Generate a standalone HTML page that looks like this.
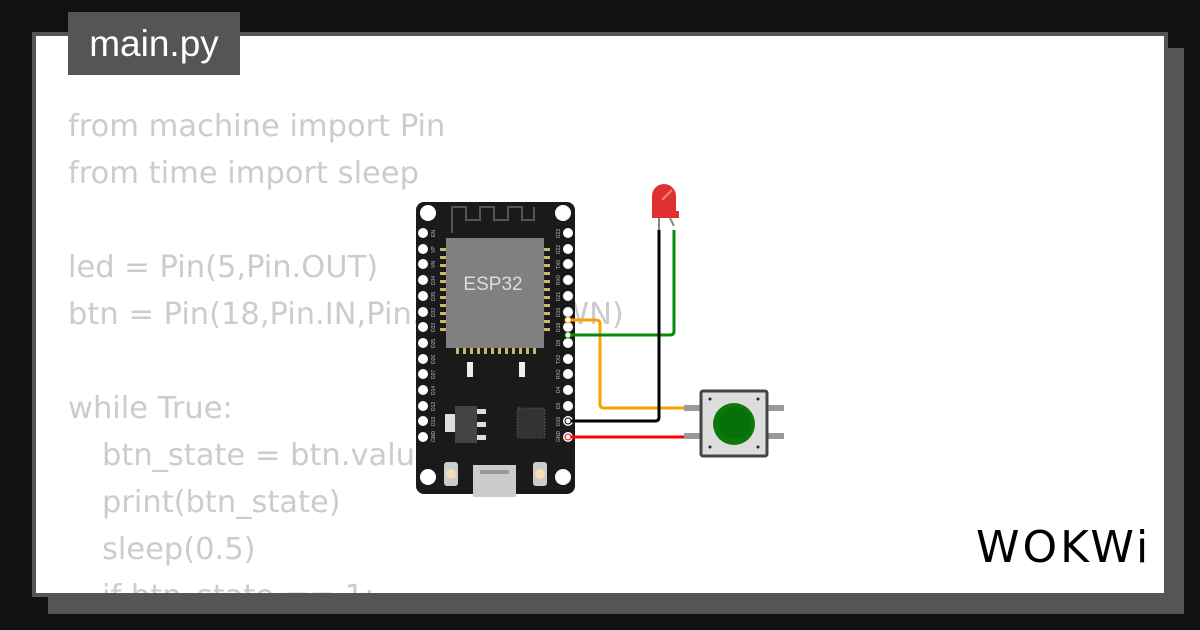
<!DOCTYPE html>
<html><head><meta charset="utf-8"><style>
html,body{margin:0;padding:0;background:#111;}
#c{position:relative;width:1200px;height:630px;overflow:hidden;background:#111;font-family:"Liberation Sans","DejaVu Sans",sans-serif;}
.shadow{position:absolute;left:48px;top:48px;width:1136px;height:566px;background:#555;}
.panel{position:absolute;left:32px;top:32px;width:1128px;height:557px;background:#fff;border:4px solid #555;overflow:hidden;}
.tab{position:absolute;left:68px;top:12px;width:172px;height:63px;background:#555;color:#fff;font-size:37px;line-height:63px;text-align:center;}
.code{position:absolute;left:32px;top:67px;color:#ccc;font-size:30.5px;line-height:47px;white-space:pre;font-family:"DejaVu Sans",sans-serif;}
.i{display:inline-block;width:34px;}
svg{position:absolute;left:0;top:0;}
.logo{position:absolute;left:976px;top:522px;font-size:44px;color:#000;letter-spacing:3px;font-family:"DejaVu Sans",sans-serif;}
</style></head><body><div id="c">
<div class="shadow"></div>
<div class="panel"><div class="code">from machine import Pin
from time import sleep

led = Pin(5,Pin.OUT)
btn = Pin(18,Pin.IN,Pin.PULL_DOWN)

while True:
<span class="i"></span>btn_state = btn.value()
<span class="i"></span>print(btn_state)
<span class="i"></span>sleep(0.5)
<span class="i"></span>if btn_state == 1:</div></div>
<div class="tab">main.py</div>
<svg width="1200" height="630" viewBox="0 0 1200 630">
<rect x="416" y="202" width="159" height="292" rx="8" fill="#1a1a1a"/>
<path d="M452 233 V207 H466 V220 H480 V207 H494 V220 H508 V207 H522 V220 H534 V207" fill="none" stroke="#555" stroke-width="2"/>
<g fill="#c9b86a">
<rect x="440" y="248" width="6" height="3"/><rect x="440" y="256" width="6" height="3"/><rect x="440" y="264" width="6" height="3"/><rect x="440" y="272" width="6" height="3"/><rect x="440" y="280" width="6" height="3"/><rect x="440" y="288" width="6" height="3"/><rect x="440" y="296" width="6" height="3"/><rect x="440" y="304" width="6" height="3"/><rect x="440" y="312" width="6" height="3"/><rect x="440" y="320" width="6" height="3"/><rect x="440" y="328" width="6" height="3"/>
<rect x="544" y="248" width="6" height="3"/><rect x="544" y="256" width="6" height="3"/><rect x="544" y="264" width="6" height="3"/><rect x="544" y="272" width="6" height="3"/><rect x="544" y="280" width="6" height="3"/><rect x="544" y="288" width="6" height="3"/><rect x="544" y="296" width="6" height="3"/><rect x="544" y="304" width="6" height="3"/><rect x="544" y="312" width="6" height="3"/><rect x="544" y="320" width="6" height="3"/><rect x="544" y="328" width="6" height="3"/>
<rect x="456" y="348" width="3" height="6"/><rect x="463" y="348" width="3" height="6"/><rect x="470" y="348" width="3" height="6"/><rect x="477" y="348" width="3" height="6"/><rect x="484" y="348" width="3" height="6"/><rect x="491" y="348" width="3" height="6"/><rect x="498" y="348" width="3" height="6"/><rect x="505" y="348" width="3" height="6"/><rect x="512" y="348" width="3" height="6"/><rect x="519" y="348" width="3" height="6"/><rect x="526" y="348" width="3" height="6"/><rect x="533" y="348" width="3" height="6"/>
</g>
<rect x="446" y="238" width="98" height="110" fill="#808080"/>
<text x="493" y="290" font-size="19" fill="#ddd" text-anchor="middle" font-family="Liberation Sans,sans-serif">ESP32</text>
<rect x="467" y="362" width="6" height="15" fill="#eee"/><rect x="519" y="362" width="6" height="15" fill="#eee"/>
<rect x="445" y="414" width="10" height="18" fill="#ddd"/>
<rect x="455" y="406" width="22" height="37" fill="#444"/>
<rect x="477" y="409" width="9" height="5" fill="#ddd"/><rect x="477" y="422" width="9" height="5" fill="#ddd"/><rect x="477" y="435" width="9" height="5" fill="#ddd"/>
<rect x="517" y="408" width="28" height="30" rx="2" fill="#333" stroke="#666" stroke-dasharray="1 2"/>
<rect x="444" y="462" width="14" height="24" rx="3" fill="#ccc"/><circle cx="451" cy="474" r="5" fill="#f5deb3"/>
<rect x="533" y="462" width="14" height="24" rx="3" fill="#ccc"/><circle cx="540" cy="474" r="5" fill="#f5deb3"/>
<rect x="473" y="465" width="43" height="32" fill="#ccc"/><rect x="480" y="470" width="29" height="4" fill="#999"/>
<g fill="#fff">
<circle cx="428" cy="213" r="8"/><circle cx="563" cy="213" r="8"/><circle cx="428" cy="477" r="8"/><circle cx="563" cy="477" r="8"/>
<circle cx="423" cy="233" r="5"/><circle cx="423" cy="249" r="5"/><circle cx="423" cy="264" r="5"/><circle cx="423" cy="280" r="5"/><circle cx="423" cy="296" r="5"/><circle cx="423" cy="312" r="5"/><circle cx="423" cy="327" r="5"/><circle cx="423" cy="343" r="5"/><circle cx="423" cy="359" r="5"/><circle cx="423" cy="374" r="5"/><circle cx="423" cy="390" r="5"/><circle cx="423" cy="406" r="5"/><circle cx="423" cy="421" r="5"/><circle cx="423" cy="437" r="5"/>
<circle cx="568" cy="233" r="5"/><circle cx="568" cy="249" r="5"/><circle cx="568" cy="264" r="5"/><circle cx="568" cy="280" r="5"/><circle cx="568" cy="296" r="5"/><circle cx="568" cy="312" r="5"/><circle cx="568" cy="327" r="5"/><circle cx="568" cy="343" r="5"/><circle cx="568" cy="359" r="5"/><circle cx="568" cy="374" r="5"/><circle cx="568" cy="390" r="5"/><circle cx="568" cy="406" r="5"/><circle cx="568" cy="421" r="5"/><circle cx="568" cy="437" r="5"/>
</g>
<g font-size="5" fill="#bbb" font-family="Liberation Sans,sans-serif">
<text transform="translate(435,237) rotate(-90)">EN</text><text transform="translate(435,253) rotate(-90)">VP</text><text transform="translate(435,268) rotate(-90)">VN</text><text transform="translate(435,285) rotate(-90)">D34</text><text transform="translate(435,301) rotate(-90)">D35</text><text transform="translate(435,317) rotate(-90)">D32</text><text transform="translate(435,332) rotate(-90)">D33</text><text transform="translate(435,348) rotate(-90)">D25</text><text transform="translate(435,364) rotate(-90)">D26</text><text transform="translate(435,379) rotate(-90)">D27</text><text transform="translate(435,395) rotate(-90)">D14</text><text transform="translate(435,411) rotate(-90)">D12</text><text transform="translate(435,426) rotate(-90)">D13</text><text transform="translate(435,442) rotate(-90)">GND</text>
<text transform="translate(560,238) rotate(-90)">D23</text><text transform="translate(560,254) rotate(-90)">D22</text><text transform="translate(560,269) rotate(-90)">TX0</text><text transform="translate(560,285) rotate(-90)">RX0</text><text transform="translate(560,301) rotate(-90)">D21</text><text transform="translate(560,317) rotate(-90)">D19</text><text transform="translate(560,332) rotate(-90)">D18</text><text transform="translate(560,346) rotate(-90)">D5</text><text transform="translate(560,364) rotate(-90)">TX2</text><text transform="translate(560,379) rotate(-90)">RX2</text><text transform="translate(560,393) rotate(-90)">D4</text><text transform="translate(560,409) rotate(-90)">D2</text><text transform="translate(560,426) rotate(-90)">D15</text><text transform="translate(560,442) rotate(-90)">GND</text>
</g>
<path d="M659 218 V230" stroke="#888" stroke-width="2"/><path d="M670 218 L674 226" stroke="#888" stroke-width="2" fill="none"/>
<path d="M652 218 V196 A12 12 0 0 1 676 196 V211 H679 V218 Z" fill="#e03030"/>
<path d="M662 200 L672 190" stroke="#f08080" stroke-width="2"/>
<path d="M568 320 H596 Q600 320 600 324 V404 Q600 408 604 408 H690" fill="none" stroke="#f5a300" stroke-width="3"/>
<path d="M568 335 H670 Q674 335 674 331 V230" fill="none" stroke="#0a8a0a" stroke-width="3"/>
<path d="M568 421 H655 Q659 421 659 417 V230" fill="none" stroke="#000" stroke-width="3"/>
<path d="M568 437 H690" fill="none" stroke="#f00" stroke-width="3"/>
<circle cx="568" cy="320" r="3" fill="#fff" stroke="#f5a300"/><circle cx="568" cy="335" r="3" fill="#fff" stroke="#0a8a0a"/><circle cx="568" cy="421" r="3" fill="#fff" stroke="#000"/><circle cx="568" cy="437" r="3" fill="#fff" stroke="#f00"/>
<rect x="684" y="405" width="17" height="6" fill="#999"/><rect x="684" y="433" width="17" height="6" fill="#999"/>
<rect x="767" y="405" width="17" height="6" fill="#999"/><rect x="767" y="433" width="17" height="6" fill="#999"/>
<rect x="701" y="391" width="66" height="65" rx="2" fill="#ddd" stroke="#444" stroke-width="3"/>
<circle cx="710" cy="399" r="1.5" fill="#222"/><circle cx="758" cy="399" r="1.5" fill="#222"/><circle cx="710" cy="447" r="1.5" fill="#222"/><circle cx="758" cy="447" r="1.5" fill="#222"/>
<circle cx="734" cy="424" r="21" fill="#0b7a0b"/><circle cx="735" cy="423" r="16" fill="#087008"/>
</svg>
<div class="logo">WOKWi</div>
</div></body></html>
